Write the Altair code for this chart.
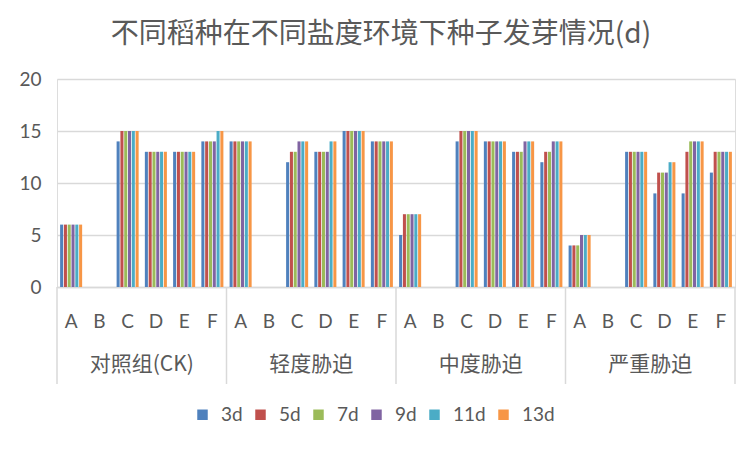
import altair as alt
import pandas as pd

groups = ["对照组(CK)", "轻度胁迫", "中度胁迫", "严重胁迫"]
letters = ["A", "B", "C", "D", "E", "F"]
series = ["3d", "5d", "7d", "9d", "11d", "13d"]
colors = ["#4F81BD", "#C0504D", "#9BBB59", "#8064A2", "#4BACC6", "#F79646"]

# values[group][letter] -> list over series
ck = [[6, 6, 6, 6, 6, 6], [0, 0, 0, 0, 0, 0], [14, 15, 15, 15, 15, 15],
      [13, 13, 13, 13, 13, 13], [13, 13, 13, 13, 13, 13], [14, 14, 14, 14, 15, 15]]
mild = [[14, 14, 14, 14, 14, 14], [0, 0, 0, 0, 0, 0], [12, 13, 13, 14, 14, 14],
        [13, 13, 13, 13, 14, 14], [15, 15, 15, 15, 15, 15], [14, 14, 14, 14, 14, 14]]
moderate = [[5, 7, 7, 7, 7, 7], [0, 0, 0, 0, 0, 0], [14, 15, 15, 15, 15, 15],
            [14, 14, 14, 14, 14, 14], [13, 13, 13, 14, 14, 14], [12, 13, 13, 14, 14, 14]]
severe = [[4, 4, 4, 5, 5, 5], [0, 0, 0, 0, 0, 0], [13, 13, 13, 13, 13, 13],
          [9, 11, 11, 11, 12, 12], [9, 13, 14, 14, 14, 14], [11, 13, 13, 13, 13, 13]]
all_values = [ck, mild, moderate, severe]

rows = []
for g, gv in zip(groups, all_values):
    for l, lv in zip(letters, gv):
        for s, v in zip(series, lv):
            rows.append({"group": g, "letter": l, "key": g + "|" + l,
                         "series": s, "value": v})
df = pd.DataFrame(rows)
keys = [g + "|" + l for g in groups for l in letters]

group_df = pd.DataFrame({"group": groups,
                         "first": [g + "|A" for g in groups],
                         "mid": [g + "|C" for g in groups],
                         "last": [g + "|F" for g in groups]})

W = 678
H = 208
GRAY = "#595959"
GRID = "#D9D9D9"
step = W / len(keys)
gap_half = step * 0.11

xscale = alt.Scale(domain=keys, paddingInner=0.22, paddingOuter=0.11)

bars = alt.Chart(df).mark_bar().encode(
    x=alt.X("key:N", sort=keys, title=None, scale=xscale,
            axis=alt.Axis(labelAngle=0, ticks=False, domainColor=GRID, domainWidth=1.5,
                          labelFontSize=19, labelColor=GRAY, labelFont="Lato",
                          labelPadding=25,
                          labelExpr="split(datum.label, '|')[1]")),
    xOffset=alt.XOffset("series:N", sort=series,
                        scale=alt.Scale(paddingInner=0.2)),
    y=alt.Y("value:Q", title=None,
            scale=alt.Scale(domain=[0, 20]),
            axis=alt.Axis(values=[0, 5, 10, 15, 20], domain=False, ticks=False,
                          gridColor=GRID, gridWidth=1.5, labelFontSize=19,
                          labelColor=GRAY, labelFont="Lato", labelPadding=16)),
    color=alt.Color("series:N", sort=series,
                    scale=alt.Scale(domain=series, range=colors),
                    legend=alt.Legend(title=None, orient="none", direction="horizontal",
                                      legendX=136, legendY=326,
                                      symbolType="square", symbolSize=110,
                                      labelFontSize=19, labelColor=GRAY,
                                      labelFont="Lato", columnPadding=8,
                                      labelOffset=9, symbolStrokeWidth=0)),
)

sep_left = alt.Chart(group_df).mark_rule(color=GRID, strokeWidth=1.5,
                                         xOffset=-gap_half).encode(
    x=alt.X("first:N", sort=keys, scale=xscale, bandPosition=0),
    y=alt.value(H), y2=alt.value(H + 97)
)
sep_right = alt.Chart(group_df).transform_filter(
    alt.datum.group == groups[-1]
).mark_rule(color=GRID, strokeWidth=1.5, xOffset=gap_half).encode(
    x=alt.X("last:N", sort=keys, scale=xscale, bandPosition=1),
    y=alt.value(H), y2=alt.value(H + 97)
)
labels = alt.Chart(group_df).mark_text(
    fontSize=21, color=GRAY, font="Noto Sans CJK SC", baseline="middle",
    align="center", dx=gap_half
).encode(
    x=alt.X("mid:N", sort=keys, scale=xscale, bandPosition=1),
    y=alt.value(H + 78),
    text="group:N"
)

chart = alt.layer(bars, sep_left, sep_right, labels).properties(
    width=W, height=H,
    padding={"left": 10, "top": 13, "right": 5, "bottom": 5},
    title=alt.TitleParams("不同稻种在不同盐度环境下种子发芽情况(d)", fontSize=28,
                          font="Noto Sans CJK SC", color=GRAY, fontWeight="normal",
                          anchor="middle", offset=21, dx=-15)
).configure_view(strokeWidth=0).configure(background="white")

chart.save("out.html", embed_options={"renderer": "svg", "actions": False})
